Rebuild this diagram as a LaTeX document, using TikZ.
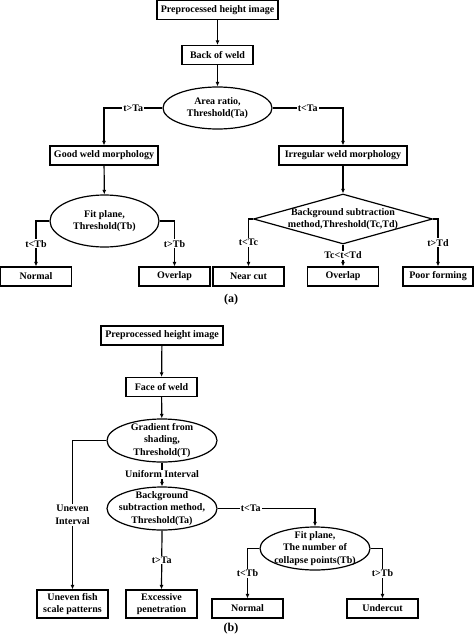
\documentclass[tikz,border=0pt]{standalone}
\usepackage{fontspec}
\setmainfont{Liberation Serif}
\usetikzlibrary{shapes.geometric,arrows.meta}

\begin{document}
\begin{tikzpicture}[x=1pt, y=-1pt, line width=1.2pt,
	every node/.style={font=\fontsize{10}{12.5}\selectfont\bfseries},
	box/.style={draw, rectangle, minimum width=71pt, minimum height=19pt, inner xsep=3pt, inner ysep=2pt, align=center},
	ell/.style={draw, ellipse, minimum width=110pt, minimum height=43pt, inner sep=0pt},
	dia/.style={draw, diamond, minimum width=179pt, minimum height=50pt, inner sep=0pt},
	lab/.style={fill=white, inner sep=1pt, align=center},
	captxt/.style={font=\fontsize{12}{14}\selectfont\bfseries},
	arr/.style={-{Latex[length=4.5pt,width=4pt]}}]

	\useasboundingbox (0,0) rectangle (474,637);

	% (a) back of weld
	\node[box, minimum width=121pt] (pre1) at (217.5,10) {Preprocessed height image};
	\node[box] (back) at (217.5,55) {Back of weld};
	\node[ell, minimum width=109pt, minimum height=42pt,
		label={[align=center]center:Area ratio,\\Threshold(Ta)}] (area) at (217.5,108) {};
	\node[box, minimum width=108pt] (good) at (104,155.5) {Good weld morphology};
	\node[box, minimum width=128pt] (irr) at (343,155.5) {Irregular weld morphology};
	\node[ell, minimum width=109pt, minimum height=52pt,
		label={[align=center]center:Fit plane,\\Threshold(Tb)}] (fitA) at (104.5,221) {};
	\node[dia, label={[align=center]center:Background subtraction\\method,Threshold(Tc,Td)}] (bgA) at (343,219) {};
	\node[box] (normA) at (36,276.5) {Normal};
	\node[box] (overA) at (174.5,276.5) {Overlap};
	\node[box] (near) at (248.5,276.5) {Near cut};
	\node[box] (overB) at (343,276.5) {Overlap};
	\node[box, minimum width=70pt] (poor) at (438,276.5) {Poor forming};
	\node[captxt] (capA) at (231,300) {(a)};

	\draw[arr] (pre1) -- (back);
	\draw[arr] (back) -- (area);
	\draw[arr] (area.west) -| node[lab, pos=.25] {t>Ta} (good.north);
	\draw[arr] (area.east) -| node[lab, pos=.25] {t<Ta} (irr.north);
	\draw[arr] (good) -- (fitA);
	\draw[arr] (fitA.west) -| node[lab, pos=.75] {t<Tb} (normA.north);
	\draw[arr] (fitA.east) -| node[lab, pos=.75] {t>Tb} (overA.north);
	\draw[arr] (irr) -- (bgA.north);
	\draw[arr] (bgA.west) -| node[lab, pos=.75] {t<Tc} (near.north);
	\draw[arr] (bgA.south) -- node[lab] {Tc<t<Td} (overB.north);
	\draw[arr] (bgA.east) -| node[lab, pos=.75] {t>Td} (poor.north);

	% (b) face of weld
	\node[box, minimum width=122pt] (pre2) at (162,335.5) {Preprocessed height image};
	\node[box] (face) at (161.5,387) {Face of weld};
	\node[ell, label={[align=center]center:Gradient from\\shading,\\Threshold(T)}] (grad) at (162,440.5) {};
	\node[ell, label={[align=center]center:Background\\subtraction method,\\Threshold(Ta)}] (bgB) at (162,508.5) {};
	\node[ell, label={[align=center]center:Fit plane,\\The number of\\collapse points(Tb)}] (fitB) at (315,548.5) {};
	\node[box, minimum height=28pt] (fish) at (72.5,604) {Uneven fish\\scale patterns};
	\node[box, minimum height=28pt] (exc) at (161.5,604) {Excessive\\penetration};
	\node[box] (normB) at (247.5,608.5) {Normal};
	\node[box] (under) at (382.5,608.5) {Undercut};
	\node[captxt] (capB) at (231,629) {(b)};

	\draw[arr] (pre2) -- (face);
	\draw[arr] (face) -- (grad);
	\draw[arr] (grad.south) -- node[lab] {Uniform Interval} (bgB.north);
	\draw[arr] (grad.west) -| node[lab, pos=.75] {Uneven\\Interval} (fish.north);
	\draw[arr] (bgB.south) -- node[lab] {t>Ta} (exc.north);
	\draw[arr] (bgB.east) -| node[lab, pos=.17] {t<Ta} (fitB.north);
	\draw[arr] (fitB.west) -| node[lab, pos=.75] {t<Tb} (normB.north);
	\draw[arr] (fitB.east) -| node[lab, pos=.75] {t>Tb} (under.north);
\end{tikzpicture}
\end{document}
